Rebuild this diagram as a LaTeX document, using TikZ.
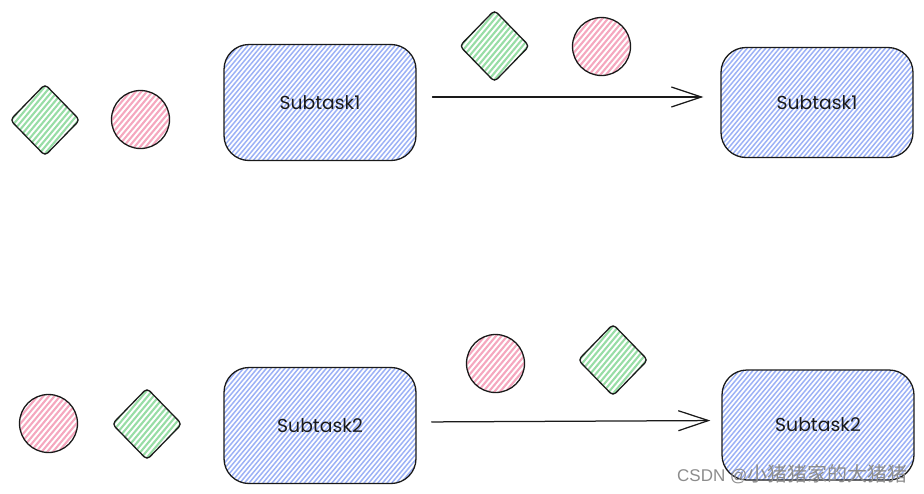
\documentclass[tikz,border=0pt]{standalone}
\usepackage{fontspec}
\setmainfont{Poppins}
\newfontfamily\cjkwm{Noto Sans CJK SC}
\newfontfamily\latinwm{Liberation Sans}
\usetikzlibrary{shapes.geometric,arrows.meta}
\definecolor{ink}{HTML}{1A1A1A}
\definecolor{bluehatch}{HTML}{9DB2F6}
\definecolor{greenhatch}{HTML}{98DDA6}
\definecolor{pinkhatch}{HTML}{F5A8BF}
\tikzset{
  hatchfill/.style n args={3}{path picture={
    \foreach \k in {-50,...,50}{
      \draw[#1,line width=#3pt] ([shift={(\k*#2pt-100pt,-120pt)}]path picture bounding box.center) -- ([shift={(\k*#2pt+100pt,120pt)}]path picture bounding box.center);
    }}},
  taskbox/.style={draw=ink,line width=1.3pt,rounded corners=25pt,minimum width=192pt,minimum height=116pt,inner sep=0pt,
    hatchfill={bluehatch}{4.6}{1.5},font=\fontsize{18.8}{19}\selectfont,text=ink},
  gem/.style={draw=ink,line width=1.3pt,diamond,aspect=1,rounded corners=4pt,minimum width=70pt,minimum height=72pt,inner sep=0pt,
    hatchfill={greenhatch}{5.6}{2.1}},
  ball/.style={draw=ink,line width=1.3pt,circle,minimum size=58pt,inner sep=0pt,
    hatchfill={pinkhatch}{5.6}{2.1}},
  flow/.style={draw=ink,line width=1.25pt,-{Straight Barb[length=30pt,width=20pt,line width=1.25pt]},line cap=round},
}
\begin{document}
\begin{tikzpicture}[x=1pt,y=-1pt]
\useasboundingbox (0,0) rectangle (924,493);
\node[gem] (g1) at (45,120) {};
\node[ball] (p1) at (140.5,119.5) {};
\node[taskbox] (a1) at (320,102.5) {Subtask1};
\node[taskbox,minimum height=110pt] (b1) at (817,102.5) {Subtask1};
\node[gem] (g2) at (494.5,46) {};
\node[ball] (p2) at (601.5,46.5) {};
\draw[flow,line width=1.7pt,shorten <=16pt,shorten >=17pt] ([yshift=5.5pt]a1.east) -- ([yshift=5.5pt]b1.west);
\node[ball] (p3) at (48.5,423.5) {};
\node[gem] (g3) at (147,424) {};
\node[taskbox] (a2) at (320,425.5) {Subtask2};
\node[taskbox,minimum height=110pt] (b2) at (818,425) {Subtask2};
\node[ball] (p4) at (495.5,363.5) {};
\node[gem] (g4) at (613,360) {};
\draw[flow,shorten <=15pt,shorten >=11pt] ([yshift=3.5pt]a2.east) -- ([yshift=4.5pt]b2.west);
\node[anchor=west,inner sep=0pt,text=black!45,font=\fontsize{17}{17}\selectfont] (wm) at (677,474) {\latinwm CSDN @{\cjkwm\fontsize{20}{20}\selectfont 小猪猪家的大猪猪}};
\end{tikzpicture}
\end{document}
